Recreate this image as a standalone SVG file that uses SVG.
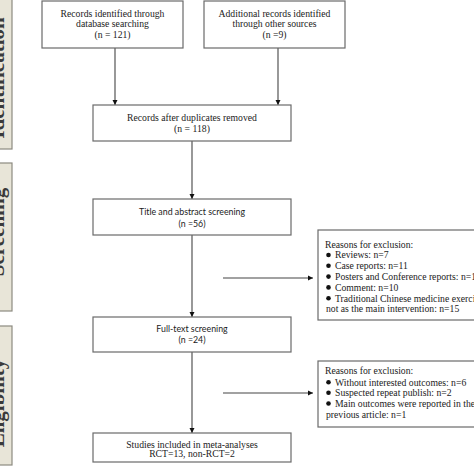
<svg xmlns="http://www.w3.org/2000/svg" width="474" height="474" viewBox="0 0 474 474">
<style>
.bg{fill:#ffffff}
.side{fill:#e8e5d8;stroke:#8c8a80;stroke-width:1.2}
.sidet{font-family:"Liberation Serif",serif;font-weight:bold;font-size:21px;fill:#3a3a3a;text-anchor:middle}
.box{fill:#ffffff;stroke:#6a6a6a;stroke-width:1.2}
.t{font-family:"Liberation Serif",serif;font-size:9.7px;fill:#222;text-anchor:middle}
.s{font-family:Lato,"Liberation Sans",sans-serif;font-size:8.8px;fill:#222;text-anchor:middle}
.l{font-family:"Liberation Serif",serif;font-size:9.7px;fill:#222}
.c{stroke:#444;stroke-width:1.1;fill:none}
.dot{fill:#111}
</style>
<defs>
<marker id="ah" markerUnits="userSpaceOnUse" markerWidth="6" markerHeight="6" refX="5" refY="3" orient="auto">
<path d="M0,0.5 L5,3 L0,5.5 z" fill="#111"/>
</marker>
</defs>
<rect class="bg" x="0" y="0" width="474" height="474"/>
<g id="side-identification">
<rect class="side" x="-10" y="-5" width="22" height="154"/>
<text class="sidet" transform="translate(4,78) rotate(-90)">Identification</text>
</g>
<g id="side-screening">
<rect class="side" x="-10" y="163" width="22" height="148"/>
<text class="sidet" transform="translate(4,232) rotate(-90)">Screening</text>
</g>
<g id="side-eligibility">
<rect class="side" x="-10" y="326" width="22" height="139"/>
<text class="sidet" transform="translate(4,403) rotate(-90)">Eligibility</text>
</g>
<g id="connectors">
<line class="c" x1="115" y1="48" x2="115" y2="105" marker-end="url(#ah)"/>
<line class="c" x1="278" y1="48" x2="278" y2="105" marker-end="url(#ah)"/>
<line class="c" x1="192" y1="141" x2="192" y2="199" marker-end="url(#ah)"/>
<line class="c" x1="192" y1="235" x2="192" y2="317" marker-end="url(#ah)"/>
<line class="c" x1="192" y1="352" x2="192" y2="433" marker-end="url(#ah)"/>
<line class="c" x1="223" y1="278" x2="313" y2="278" marker-end="url(#ah)"/>
<line class="c" x1="223" y1="393" x2="313" y2="393" marker-end="url(#ah)"/>
</g>
<g id="node-database">
<rect class="box" x="42" y="1" width="141" height="47"/>
<text class="t" x="112.5" y="16.5">Records identified through</text>
<text class="t" x="112.5" y="27">database searching</text>
<text class="t" x="112.5" y="37.5">(n = 121)</text>
</g>
<g id="node-other">
<rect class="box" x="204" y="1" width="141" height="47"/>
<text class="t" x="274.5" y="16.5">Additional records identified</text>
<text class="t" x="274.5" y="27">through other sources</text>
<text class="t" x="274.5" y="37.5">(n =9)</text>
</g>
<g id="node-duplicates">
<rect class="box" x="93" y="105" width="198" height="36"/>
<text class="t" x="192" y="120.5">Records after duplicates removed</text>
<text class="t" x="192" y="131.5">(n = 118)</text>
</g>
<g id="node-title">
<rect class="box" x="93" y="199" width="198" height="36"/>
<text class="s" x="192" y="215">Title and abstract screening</text>
<text class="s" x="192" y="226.5">(n =56)</text>
</g>
<g id="node-fulltext">
<rect class="box" x="93" y="317" width="198" height="35"/>
<text class="s" x="192" y="331.5">Full-text screening</text>
<text class="s" x="192" y="343">(n =24)</text>
</g>
<g id="node-included">
<rect class="box" x="93" y="433" width="198" height="29"/>
<text class="t" x="192" y="447.5">Studies included in meta-analyses</text>
<text class="t" x="192" y="457">RCT=13, non-RCT=2</text>
</g>
<g id="node-exclusion1">
<rect class="box" x="318" y="230" width="170" height="90"/>
<text class="l" x="325" y="247.5">Reasons for exclusion:</text>
<circle class="dot" cx="328.5" cy="255" r="2.3"/>
<text class="l" x="335" y="258.3">Reviews: n=7</text>
<circle class="dot" cx="328.5" cy="265.8" r="2.3"/>
<text class="l" x="335" y="269.1">Case reports: n=11</text>
<circle class="dot" cx="328.5" cy="276.6" r="2.3"/>
<text class="l" x="335" y="279.9">Posters and Conference reports: n=13</text>
<circle class="dot" cx="328.5" cy="287.4" r="2.3"/>
<text class="l" x="335" y="290.7">Comment: n=10</text>
<circle class="dot" cx="328.5" cy="298.2" r="2.3"/>
<text class="l" x="335" y="301.5">Traditional Chinese medicine exercise</text>
<text class="l" x="326" y="312.3">not as the main  intervention: n=15</text>
</g>
<g id="node-exclusion2">
<rect class="box" x="318" y="361" width="170" height="66"/>
<text class="l" x="325" y="374">Reasons for exclusion:</text>
<circle class="dot" cx="328.5" cy="382.2" r="2.3"/>
<text class="l" x="335" y="385.5">Without interested outcomes: n=6</text>
<circle class="dot" cx="328.5" cy="392.7" r="2.3"/>
<text class="l" x="335" y="396">Suspected repeat publish: n=2</text>
<circle class="dot" cx="328.5" cy="403.5" r="2.3"/>
<text class="l" x="335" y="406.8">Main outcomes were reported in the</text>
<text class="l" x="326" y="417.6">previous article: n=1</text>
</g>
</svg>
